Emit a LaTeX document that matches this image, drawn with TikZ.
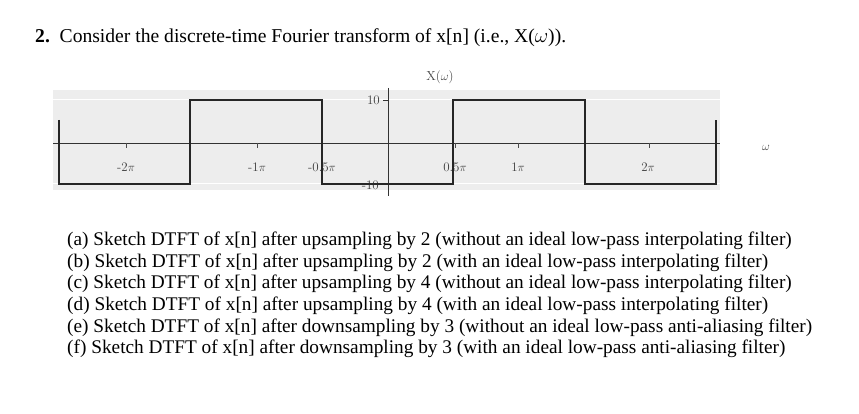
\documentclass[tikz,border=0pt]{standalone}
\usepackage{fontspec}
\setmainfont{Liberation Serif}
\newfontfamily\lmfont{Latin Modern Roman}
\begin{document}
\begin{tikzpicture}[x=1pt,y=-1pt,
  txt/.style={anchor=west,inner sep=0,font=\fontsize{19.3}{21}\selectfont},
  lab/.style={inner sep=0,font=\lmfont\fontsize{13}{14}\selectfont,text=black!75},
  sig/.style={line width=1.6pt,black!85}]
\useasboundingbox (0,0) rectangle (859,414);
\node[txt,font=\fontsize{19.6}{21}\selectfont] (title) at (35,38) {\textbf{2.}\ \ Consider the discrete-time Fourier transform of x[n] (i.e., X($\omega$)).};
\fill[black!7] (53,90) rectangle (720,190);
\draw[white,line width=1pt] (53,100) -- (720,100) (53,184) -- (720,184);
\draw[black!80,line width=0.6pt] (53,143) -- (720,143);
\draw[black!80,line width=0.6pt] (388,88) -- (388,196);
\draw[black!80,line width=0.6pt] (383,100) -- (388,100) (383,184) -- (388,184);
\node[lab,anchor=east] (t10) at (380,100) {10};
\node[lab,anchor=east] (tm10) at (379,185) {-10};
\node[lab] (xw) at (440,77) {X($\omega$)};
\node[lab] (w) at (766,148) {$\omega$};
\foreach \x/\l/\p in {126/-2/126,257/-1/257,322/-0.5/322,455/0.5/455,518/1/518,648/2/649}{
  \draw[black!70,line width=0.5pt] (\p,143) -- (\p,148);
  \node[lab] at (\x,167) {\l$\pi$};
}
\draw[sig] (59,120) -- (59,184) -- (190,184) -- (190,100) -- (322,100) -- (322,184) -- (453,184) -- (453,100) -- (585,100) -- (585,184) -- (716,184) -- (716,120);
\foreach \t [count=\i] in {
 {(a) Sketch DTFT of x[n] after upsampling by 2 (without an ideal low-pass interpolating filter)},
 {(b) Sketch DTFT of x[n] after upsampling by 2 (with an ideal low-pass interpolating filter)},
 {(c) Sketch DTFT of x[n] after upsampling by 4 (without an ideal low-pass interpolating filter)},
 {(d) Sketch DTFT of x[n] after upsampling by 4 (with an ideal low-pass interpolating filter)},
 {(e) Sketch DTFT of x[n] after downsampling by 3 (without an ideal low-pass anti-aliasing filter)},
 {(f) Sketch DTFT of x[n] after downsampling by 3 (with an ideal low-pass anti-aliasing filter)}}
 \node[txt] (q\i) at (67,219+21.7*\i) {\t};
\end{tikzpicture}
\end{document}
